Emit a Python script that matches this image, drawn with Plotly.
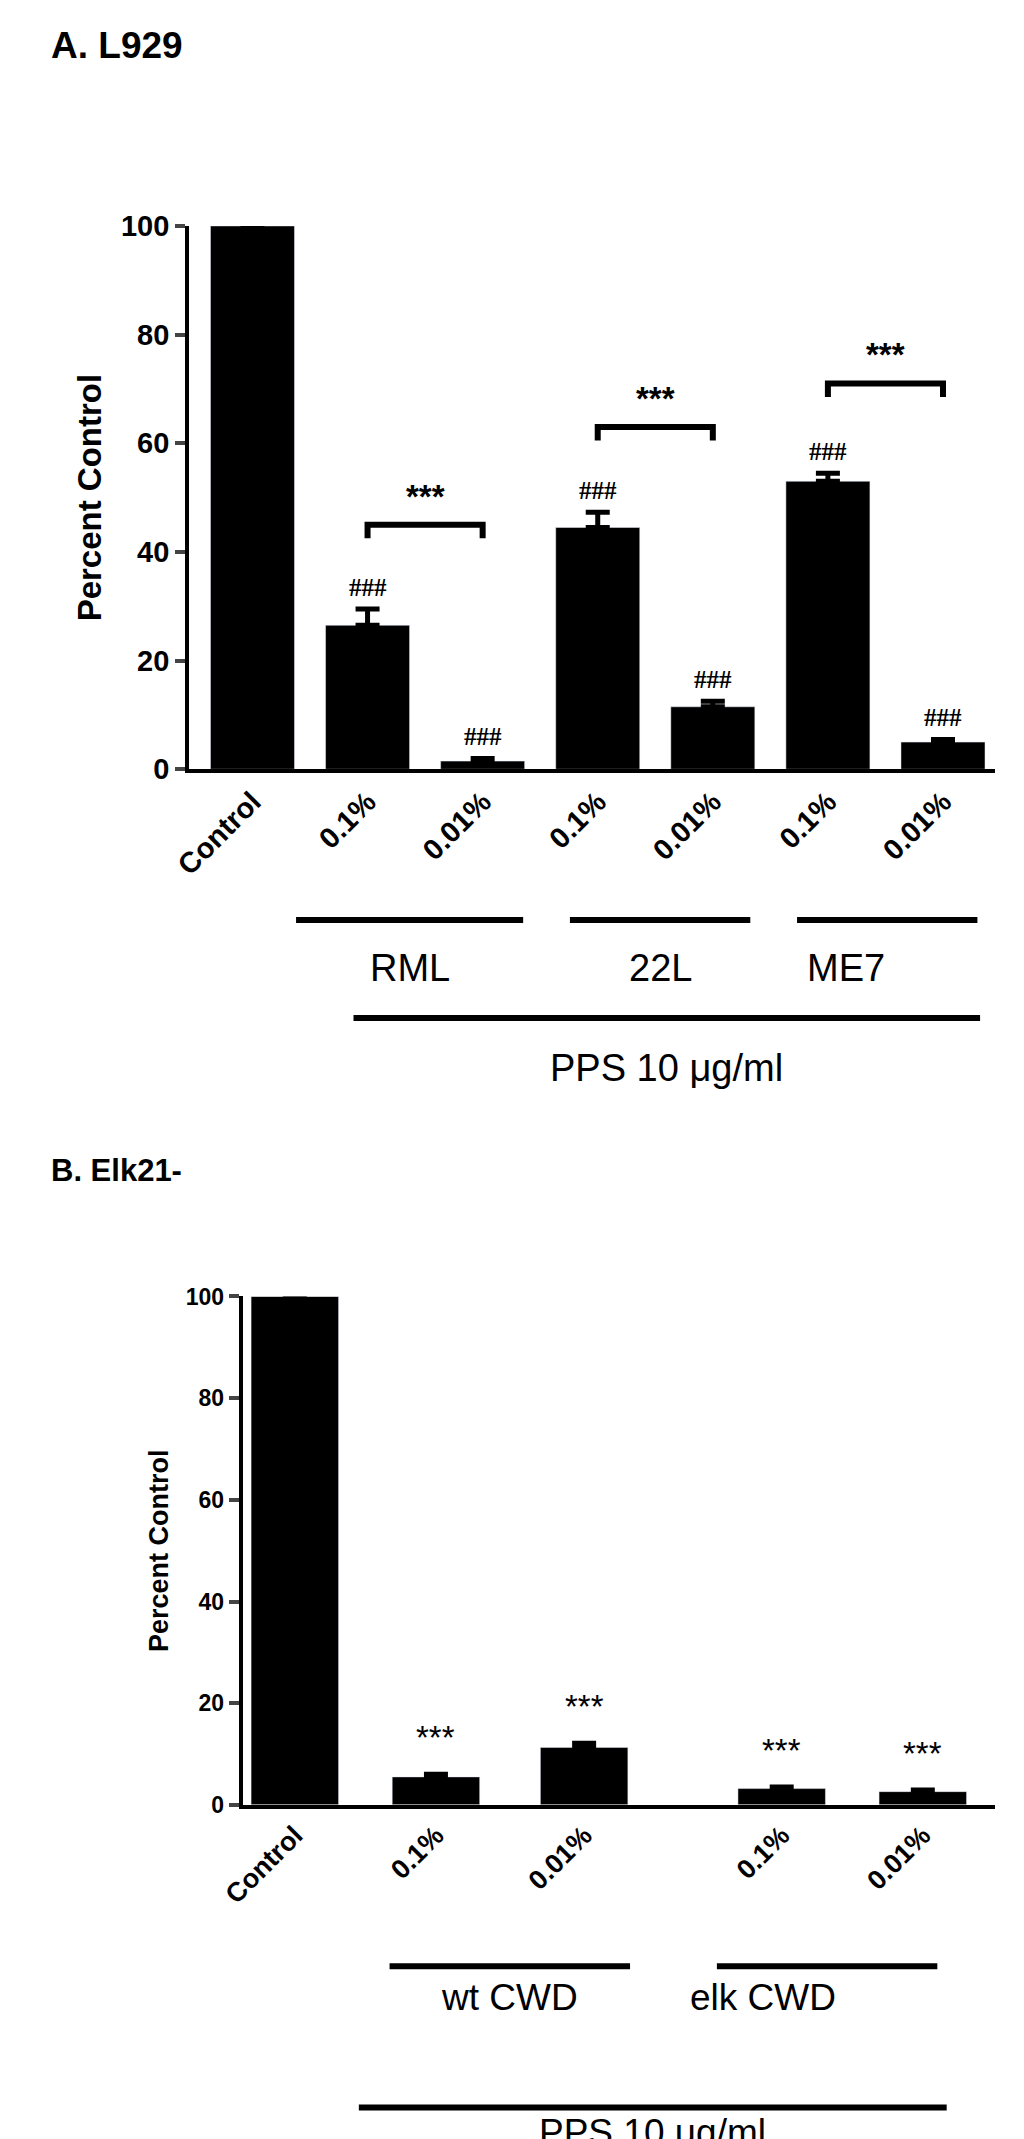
import plotly.graph_objects as go

W, H = 1024, 2139
S = 1024 / 750  # positions below were measured on a 750-wide view

# Panel A data
ticks_a = ["Control", "0.1%", "0.01%", "0.1%", "0.01%", "0.1%", "0.01%"]
vals_a = [100, 26.5, 1.5, 44.5, 11.5, 53.0, 5.0]
err_a = [0, 3.0, 0.5, 2.8, 1.0, 1.5, 0.5]
hash_a = ["", "###", "###", "###", "###", "###", "###"]
groups_a = ["RML", "22L", "ME7"]
brackets_a = [(1, 2, 45), (3, 4, 63), (5, 6, 71)]

# Panel B data
ticks_b = ["Control", "0.1%", "0.01%", "0.1%", "0.01%"]
xpos_b = [0, 1, 2.05, 3.45, 4.45]
vals_b = [100, 5.5, 11.3, 3.2, 2.6]
err_b = [0, 0.5, 0.8, 0.3, 0.3]
star_b = ["", "***", "***", "***", "***"]
groups_b = ["wt CWD", "elk CWD"]


def px(x):
    return (x * S - 8) / W


def py(y):
    return 1 - (y * S - 8) / H


def f(size, b=True):
    d = dict(family="Arial, Liberation Sans", size=round(size * S), color="black")
    if b:
        d["weight"] = "bold"
    return d


fig = go.Figure()

fig.add_trace(go.Bar(
    x=list(range(7)), y=vals_a, marker_color="black", width=0.73,
    error_y=dict(type="data", array=err_a, arrayminus=[0] * 7, symmetric=False,
                 color="black", thickness=5, width=12),
    xaxis="x", yaxis="y", showlegend=False))
fig.add_trace(go.Bar(
    x=xpos_b, y=vals_b, marker_color="black", width=0.62,
    error_y=dict(type="data", array=err_b, arrayminus=[0] * 5, symmetric=False,
                 color="black", thickness=5, width=12),
    xaxis="x2", yaxis="y2", showlegend=False))

axis_common = dict(showline=True, linecolor="black", linewidth=4, showgrid=False,
                   zeroline=False)
fig.update_layout(
    width=W, height=H, margin=dict(l=0, r=0, t=0, b=0),
    plot_bgcolor="white", paper_bgcolor="white",
    font=dict(family="Arial, Liberation Sans", color="black"),
    xaxis=dict(domain=[px(125), px(728)], anchor="y", range=[-0.55, 6.45],
               tickvals=list(range(7)), ticktext=ticks_a,
               tickangle=-45, tickfont=f(21), ticks="", **axis_common),
    yaxis=dict(domain=[py(560), py(156)], anchor="x", range=[0, 100],
               tickvals=[0, 20, 40, 60, 80, 100], ticks="outside", ticklen=10,
               tickwidth=4, tickfont=f(21),
               title=dict(text="Percent Control", standoff=10, font=f(24)),
               **axis_common),
    xaxis2=dict(domain=[px(165), px(728)], anchor="y2", range=[-0.37, 4.96],
                tickvals=xpos_b, ticktext=ticks_b, tickangle=-45, tickfont=f(20),
                ticks="", **axis_common),
    yaxis2=dict(domain=[py(1330), py(952)], anchor="x2", range=[0, 100],
                tickvals=[0, 20, 40, 60, 80, 100], ticks="outside", ticklen=10,
                tickwidth=4, tickfont=f(17),
                title=dict(text="Percent Control", standoff=10, font=f(20)),
                **axis_common),
)

ann = []
shapes = []
ann.append(dict(x=px(20), y=py(22), xref="paper", yref="paper", text="A. L929",
                showarrow=False, xanchor="left", yanchor="middle", font=f(27)))
ann.append(dict(x=px(20), y=py(858), xref="paper", yref="paper", text="B. Elk21-",
                showarrow=False, xanchor="left", yanchor="middle", font=f(23)))

# hashes above bars A
for i, (v, e, h) in enumerate(zip(vals_a, err_a, hash_a)):
    if h:
        ann.append(dict(x=i, y=v + e, xref="x", yref="y", text=h,
                        showarrow=False, yanchor="bottom", yshift=6,
                        font=dict(family="Liberation Serif, Times New Roman",
                                  size=round(18 * S), weight="bold")))

# brackets + stars A
for x0, x1, yb in brackets_a:
    shapes.append(dict(type="path", xref="x", yref="y",
                       path=f"M {x0},{yb-2.5} L {x0},{yb} L {x1},{yb} L {x1},{yb-2.5}",
                       line=dict(color="black", width=6)))
    ann.append(dict(x=(x0 + x1) / 2, y=yb, xref="x", yref="y", text="***",
                    showarrow=False, yanchor="bottom", yshift=8, font=f(24)))

# stars B
for x, v, e, s in zip(xpos_b, vals_b, err_b, star_b):
    if s:
        ann.append(dict(x=x, y=v + e, xref="x2", yref="y2", text=s, showarrow=False,
                        yanchor="bottom", yshift=16, font=f(24, False)))


def hline(x0, x1, y):
    shapes.append(dict(type="line", xref="paper", yref="paper", x0=px(x0), x1=px(x1),
                       y0=py(y), y1=py(y), line=dict(color="black", width=6)))


def label(x, y, t, size=28):
    ann.append(dict(x=px(x), y=py(y), xref="paper", yref="paper", text=t,
                    showarrow=False, font=f(size, False)))


for (x0, x1), g in zip([(205, 375), (410, 545), (580, 715)], groups_a):
    hline(x0, x1, 672)
    label((x0 + x1) / 2, 708, g)
hline(248, 717, 745)
label(482, 782, "PPS 10 μg/ml")

for (x0, x1), g in zip([(275, 455), (520, 685)], groups_b):
    hline(x0, x1, 1450)
    label((x0 + x1) / 2 + (0 if g == "wt CWD" else 8), 1490, g, 27)
hline(252, 692, 1555)
label(472, 1590, "PPS 10 μg/ml", 27)

fig.update_layout(annotations=ann, shapes=shapes)
fig.write_html("out.html")
